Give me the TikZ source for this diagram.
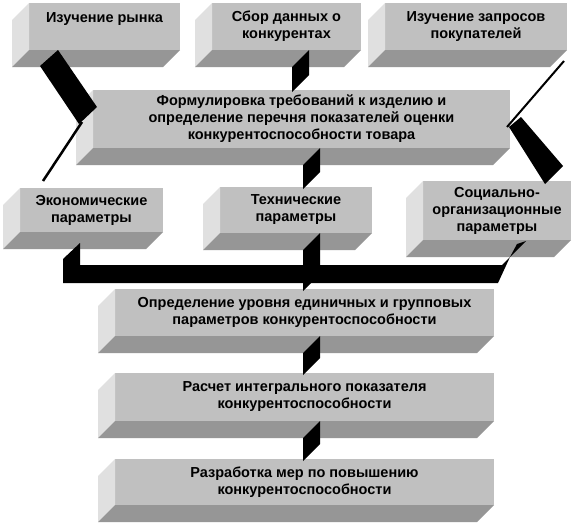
\documentclass[tikz,border=0pt]{standalone}
\usepackage{fontspec}
\setmainfont{Liberation Sans}
\usetikzlibrary{positioning, calc}

\definecolor{frontgray}{HTML}{C0C0C0}
\definecolor{sidegray}{HTML}{E0E0E0}
\definecolor{bottomgray}{HTML}{969696}

% black band with slanted ends between two boxes
\newcommand{\vlink}[3]{%
  \fill[link] ($(#3,0 |- #1.south)+(0,17)$) -- ++(17,-17)
    -- ($(#3,0 |- #2.north)+(17,-15)$) -- ++(-17,17) -- cycle;}

\begin{document}
\begin{tikzpicture}[x=1pt, y=-1pt,
    box/.style={fill=frontgray, inner sep=0pt, outer sep=0pt, align=center, anchor=north west,
        font=\fontsize{14.5}{17}\selectfont\bfseries},
    link/.style={fill=black},
    thinlink/.style={draw=black, line width=2.5pt}
]
\useasboundingbox (0,0) rectangle (577,525);
\fill[white] (0,0) rectangle (577,525);

% Sources
\node[box, minimum width=151pt, minimum height=47pt] (market) at (29,3) {Изучение рынка\\\mbox{}};
\node[box, minimum width=149pt, minimum height=47pt, right=32pt of market] (compete) {Сбор данных о\\конкурентах};
\node[box, minimum width=182pt, minimum height=47pt, right=24pt of compete] (demand) {Изучение запросов\\покупателей};

% Requirements
\node[box, minimum width=417pt, minimum height=58pt] (form) at (93,90) {Формулировка требований к изделию и\\определение перечня показателей оценки\\конкурентоспособности товара};

% Parameter groups
\node[box, minimum width=143pt, minimum height=44pt] (econ) at (20,188) {Экономические\\параметры};
\node[box, minimum width=152pt, minimum height=46pt] (tech) at (220,187) {Технические\\параметры};
\node[box, minimum width=148pt, minimum height=59pt] (social) at (423,181) {Социально-\\организационные\\параметры};

% Evaluation
\node[box, minimum width=379pt, minimum height=47pt] (level) at (115,289) {Определение уровня единичных и групповых\\параметров конкурентоспособности};
\node[box, minimum width=379pt, minimum height=48pt, below=37pt of level] (integral) {Расчет интегрального показателя\\конкурентоспособности};
\node[box, minimum width=379pt, minimum height=46pt, below=38pt of integral] (measures) {Разработка мер по повышению\\конкурентоспособности};

% 3D faces
\foreach \b in {market,compete,demand,form,econ,tech,social,level,integral,measures} {
  \fill[sidegray] (\b.north west) -- ++(-17,17) -- ($(\b.south west)+(-17,17)$) -- (\b.south west) -- cycle;
  \fill[bottomgray] (\b.south west) -- (\b.south east) -- ++(-17,17) -- ($(\b.south west)+(-17,17)$) -- cycle;
}

% Links
\fill[link] ($(market.south west)+(11,16)$) -- ($(market.south west)+(29,0)$)
  -- ($(form.west)+(4,-12)$) -- ($(form.west)+(-14,5)$) -- cycle;
\draw[thinlink] ($(form.west)+(-11,3)$) -- ($(econ.north west)+(23,-7)$);
\draw[thinlink, line width=2pt] ($(demand.south east)+(-3,11)$) -- ($(form.east)+(-3,8)$);
\fill[link] ($(form.east)+(-1,8)$) -- ($(form.east)+(11,-2)$)
  -- ($(social.north east)+(-8,-15)$) -- ($(social.north east)+(-26,3)$) -- cycle;

\vlink{compete}{form}{292}
\vlink{form}{tech}{303}
\vlink{tech}{level}{303}
\vlink{level}{integral}{303}
\vlink{integral}{measures}{303}

% Bus
\fill[link] ($(econ.south west)+(43,27)$) -- ++(17,-16) -- ++(0,22)
  -- ($(social.south)+(5,25)$) -- ($(social.south)+(29,1)$) -- ++(-9,3) -- ++(-7,13)
  -- ($(social.south)+(1,43)$) -- ($(econ.south west)+(43,51)$) -- cycle;

\end{tikzpicture}
\end{document}
